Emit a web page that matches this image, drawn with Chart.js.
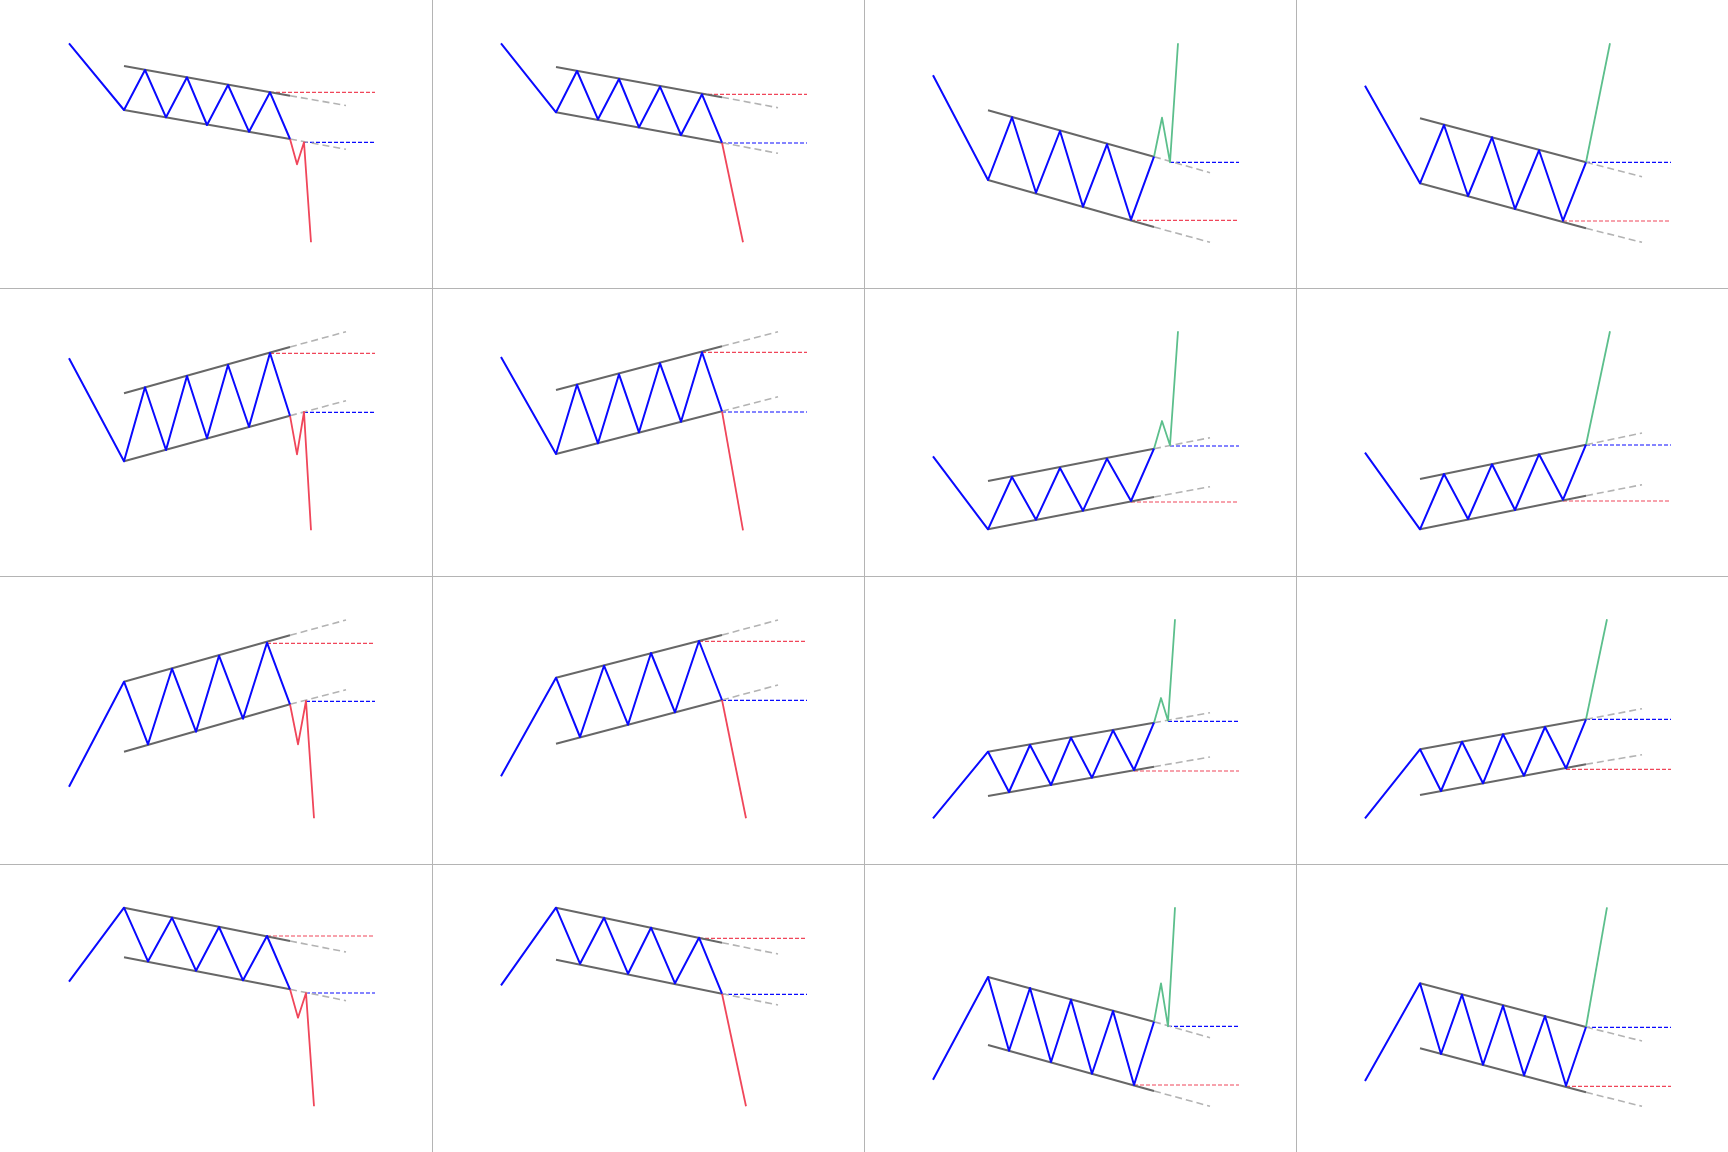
<!DOCTYPE html>
<html>
<head>
<meta charset="utf-8">
<script src="https://cdn.jsdelivr.net/npm/chart.js@4"></script>
<style>
  body { margin: 0; background: #fff; }
  #grid { position: relative; width: 1728px; height: 1152px; display: grid;
          grid-template-columns: repeat(4, 432px); grid-template-rows: repeat(4, 288px); }
  canvas { display: block; }
  .vline { position: absolute; top: 0; width: 1px; height: 1152px; background: #b4b4b4; }
  .hline { position: absolute; left: 0; height: 1px; width: 1728px; background: #b4b4b4; }
</style>
</head>
<body>
<div id="grid"></div>
<script>
// x positions (panel px) for the two zigzag rhythms
const zigXLong = [69, 124, 145, 166, 187, 207, 228, 249, 270, 290];
const zigXShort = [69, 124, 148, 172, 196, 219, 243, 267, 290];
const breakXLong = [290, 297, 304, 311];
const breakXShort = [290, 298, 306, 314];
const channelX = [124, 290, 346];
const levelEndX = 375;

// per panel, row by row (y measured from top of panel)
const zigKind = ["long", "long", "short", "short",
                 "long", "long", "short", "short",
                 "short", "short", "long", "long",
                 "short", "short", "long", "long"];
const breakKind = ["redRetest", "redDirect", "greenRetest", "greenDirect"];

const zigY = [
  [43.3, 110, 70, 117.3, 77.3, 125, 85, 131.7, 92.3, 139],
  [43.3, 112.3, 71, 119.3, 79, 127.3, 86.7, 135, 94.3, 142.7],
  [75.3, 180, 117.3, 192.7, 131, 206.7, 144.3, 219.7, 156.7],
  [85.7, 183.3, 125, 196, 137.3, 209, 150.3, 220.7, 162.3],
  [70.3, 173.3, 99.3, 162, 88, 150.3, 77, 138.7, 65, 127.7],
  [69, 166, 96.7, 155.3, 86.3, 144.3, 75.3, 133.7, 64.3, 123.3],
  [168.3, 241.3, 189, 231.7, 180, 222.7, 170.7, 213, 160.7],
  [164.7, 241.3, 186, 231, 176.3, 222, 166.3, 211.7, 156.7],
  [210.7, 105.7, 168.3, 92.7, 155.7, 79.7, 142.7, 66.7, 128.3],
  [200.3, 101.7, 161, 89.7, 148.7, 77, 136.3, 65, 124],
  [242.3, 175.7, 216, 169, 209, 161.7, 201.7, 154.3, 194, 146.7],
  [242.3, 173.3, 215, 165.7, 207.3, 158.3, 199.7, 151, 192.3, 143.3],
  [117.7, 43.7, 97.3, 53.7, 106.7, 63, 116.3, 72, 125.3],
  [121.3, 43.7, 99.7, 53.7, 109.7, 63.7, 119.3, 73.7, 129.7],
  [215.7, 113, 186.7, 124, 198, 135.7, 209.7, 147, 221, 157.7],
  [217, 119.3, 190, 130.7, 200.7, 141.7, 211.3, 152, 221.7, 163]
];

const breakY = [
  [139, 164.3, 142.3, 242.3], [142.7, 242.3], [156.7, 117.7, 162.3, 43.3], [162.3, 43.3],
  [127.7, 166.3, 124, 242.3], [123.3, 242.3], [160.7, 133, 157.3, 43.3], [156.7, 43.3],
  [128.3, 168.3, 125, 242.3], [124, 242.3], [146.7, 122, 144.7, 43.3], [143.3, 43.3],
  [125.3, 153.7, 129, 242.3], [129.7, 242.3], [157.7, 119.3, 162.3, 43.3], [163, 43.3]
];

const upperY = [
  [66, 95.7, 105.5], [67, 97.3, 107.7], [110.3, 156.7, 172.7], [118.3, 162.3, 176.7],
  [105.3, 59, 43.7], [102, 58.3, 43.7], [193, 160.7, 149.7], [191, 156.7, 145],
  [105.7, 59.3, 44], [101.7, 59, 44], [175.7, 146.7, 136.7], [173.3, 143.3, 132.7],
  [43.7, 77, 88], [43.7, 78.7, 90], [113, 157.7, 173.7], [119.3, 163, 177]
];

const lowerY = [
  [110, 139, 149.3], [112.3, 142.7, 153.3], [180, 227, 242.3], [183.3, 228.3, 242.3],
  [173.3, 127.7, 112.7], [166, 123.3, 108.7], [241.3, 209, 198.7], [241.3, 207.7, 196.7],
  [175.7, 128.3, 113.7], [167.7, 124, 109], [220, 190.7, 181], [219, 188.3, 178.7],
  [93.3, 125.3, 136.7], [95.7, 129.7, 141], [181, 227, 242.3], [184.3, 228.3, 242.3]
];

const redLevelY = [92.3, 94.3, 220.3, 221, 65.3, 64.3, 214, 213,
                   67.3, 65.3, 195, 193.3, 72, 74.3, 221, 222.3];
const blueLevelY = [142.3, 143, 162.3, 162.3, 124.3, 124, 158, 157,
                    125.3, 124.3, 145.3, 143.3, 129, 130.3, 162.3, 163.3];

const BLUE = "#0a0aff";
const RED = "#f0465a";
const GREEN = "#5cbf8c";
const CHAN = "#676767";
const EXT = "#b3b3b3";

function pts(xs, ys) {
  return xs.map((x, i) => ({ x: x, y: ys[i] }));
}

const grid = document.getElementById("grid");

for (let p = 0; p < 16; p++) {
  const canvas = document.createElement("canvas");
  canvas.width = 432;
  canvas.height = 288;
  grid.appendChild(canvas);

  const isLong = zigKind[p] === "long";
  const zx = isLong ? zigXLong : zigXShort;
  const bxFull = isLong ? breakXLong : breakXShort;
  const kind = breakKind[p % 4];
  const retest = kind.indexOf("Retest") >= 0;
  const bx = retest ? bxFull : [290, bxFull[3]];
  const breakColor = kind.indexOf("red") === 0 ? RED : GREEN;

  const redStart = zx[zx.length - 2];
  const blueStart = retest ? bxFull[2] : 290;

  const datasets = [
    { data: pts(zx, zigY[p]), borderColor: BLUE, borderWidth: 2, order: 0 },
    { data: pts(bx, breakY[p]), borderColor: breakColor, borderWidth: 1.8, order: 0 },
    { data: pts(channelX.slice(0, 2), upperY[p]), borderColor: CHAN, borderWidth: 2, order: 1 },
    { data: pts(channelX.slice(0, 2), lowerY[p]), borderColor: CHAN, borderWidth: 2, order: 1 },
    { data: pts(channelX.slice(1), upperY[p].slice(1)), borderColor: EXT, borderWidth: 1.6,
      borderDash: [7, 4], order: 2 },
    { data: pts(channelX.slice(1), lowerY[p].slice(1)), borderColor: EXT, borderWidth: 1.6,
      borderDash: [7, 4], order: 2 },
    { data: pts([redStart, levelEndX], [redLevelY[p], redLevelY[p]]), borderColor: RED,
      borderWidth: 1.2, borderDash: [4, 2], order: 3 },
    { data: pts([blueStart, levelEndX], [blueLevelY[p], blueLevelY[p]]), borderColor: BLUE,
      borderWidth: 1.2, borderDash: [4, 2], order: 3 }
  ];

  new Chart(canvas, {
    type: "line",
    data: { datasets: datasets },
    options: {
      responsive: false,
      animation: false,
      layout: { padding: 0 },
      elements: {
        point: { radius: 0 },
        line: { tension: 0, borderJoinStyle: "round", fill: false }
      },
      plugins: { legend: { display: false }, tooltip: { enabled: false } },
      scales: {
        x: { type: "linear", min: 0, max: 432, display: false },
        y: { type: "linear", min: 0, max: 288, reverse: true, display: false }
      }
    }
  });
}

// panel separators
[432, 864, 1296].forEach(x => {
  const d = document.createElement("div");
  d.className = "vline";
  d.style.left = x + "px";
  grid.appendChild(d);
});
[288, 576, 864].forEach(y => {
  const d = document.createElement("div");
  d.className = "hline";
  d.style.top = y + "px";
  grid.appendChild(d);
});
</script>
</body>
</html>
